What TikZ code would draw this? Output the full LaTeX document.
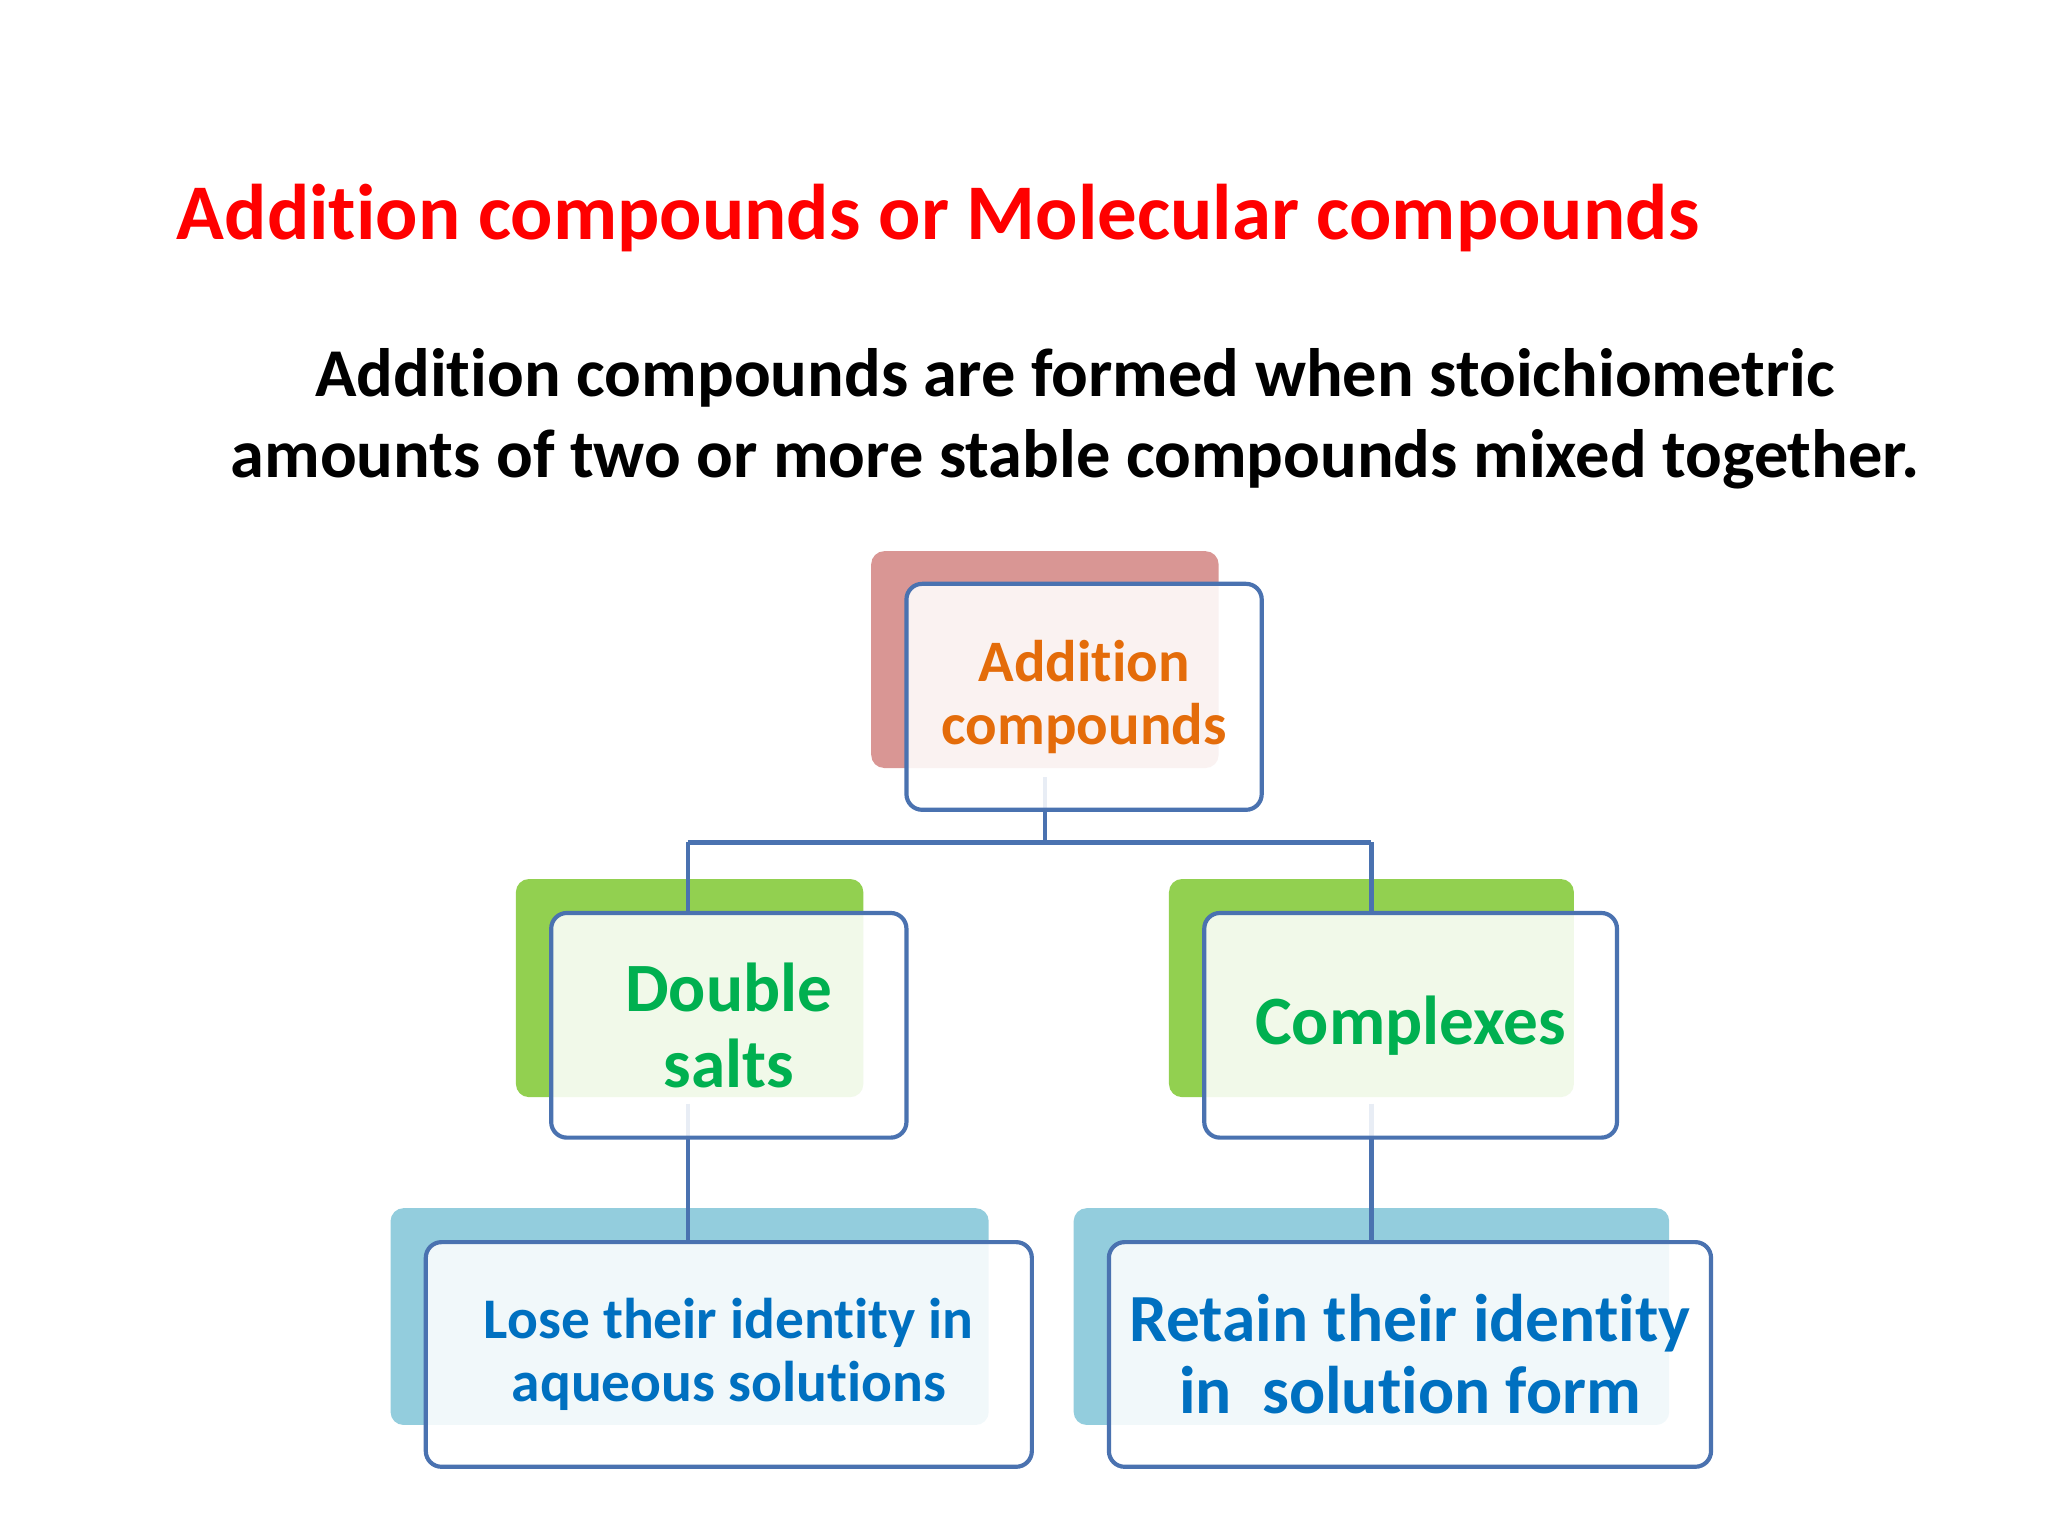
\documentclass[tikz,border=0pt]{standalone}
\usepackage{fontspec}
\setmainfont{Carlito}[RawFeature=-liga]
\definecolor{bord}{HTML}{4A72B0}
\definecolor{pinksh}{HTML}{D99694}
\definecolor{greensh}{HTML}{92D050}
\definecolor{bluesh}{HTML}{93CDDD}
\definecolor{orangetx}{HTML}{E46C0A}
\definecolor{greentx}{HTML}{00B050}
\definecolor{bluetx}{HTML}{0070C0}
\begin{document}
\begin{tikzpicture}[x=0.5pt,y=-0.5pt,
  front/.style={draw=bord,line width=1.6pt,rounded corners=6pt,fill=white,fill opacity=0.88,text opacity=1,inner sep=0pt,align=center},
  conn/.style={draw=bord,line width=1.6pt}]
\useasboundingbox (0,0) rectangle (1568,1176);
\node[anchor=base west,font=\bfseries\fontsize{30.2}{36}\selectfont,text=red,inner sep=0pt] (title) at (135,183) {Addition compounds or Molecular compounds};
\node[align=center,font=\bfseries\fontsize{26.2}{31}\selectfont,inner sep=0pt] (sub) at (823,321) {Addition compounds are formed when stoichiometric\\amounts of two or more stable compounds mixed together.};
\coordinate (j) at (800,645);
\coordinate (jl) at (527,645);
\coordinate (jr) at (1050,645);
\fill[pinksh,rounded corners=5pt] (667,422) rectangle (933,588);
\fill[greensh,rounded corners=5pt] (395,673) rectangle (661,840);
\fill[greensh,rounded corners=5pt] (895,673) rectangle (1205,840);
\fill[bluesh,rounded corners=5pt] (299,925) rectangle (757,1091);
\fill[bluesh,rounded corners=5pt] (822,925) rectangle (1278,1091);
\draw[conn] (800,595) -- (j) (jl) -- (jr) (jl) -- (527,700) (jr) -- (1050,700);
\draw[conn] (527,845) -- (527,952);
\draw[conn] (1050,845) -- (1050,952);
\node[front,minimum width=136pt,minimum height=86.5pt,text=orangetx,font=\bfseries\fontsize{22.5}{24}\selectfont] (top) at (830,533.5) {Addition\\compounds};
\node[front,minimum width=136pt,minimum height=86pt,text=greentx,font=\bfseries\fontsize{26.5}{29}\selectfont] (ds) at (558,785) {Double\\salts};
\node[front,minimum width=158pt,minimum height=86pt,text=greentx,font=\bfseries\fontsize{26.5}{29}\selectfont] (cx) at (1080,785) {Complexes};
\node[front,minimum width=232pt,minimum height=86pt,text=bluetx,font=\bfseries\fontsize{22}{24}\selectfont] (lo) at (558,1037) {Lose their identity in\\aqueous solutions};
\node[front,minimum width=230.5pt,minimum height=86pt,text=bluetx,font=\bfseries\fontsize{25.8}{27.5}\selectfont] (re) at (1079.5,1037) {Retain their identity\\in\ \ solution form};
\end{tikzpicture}
\end{document}
